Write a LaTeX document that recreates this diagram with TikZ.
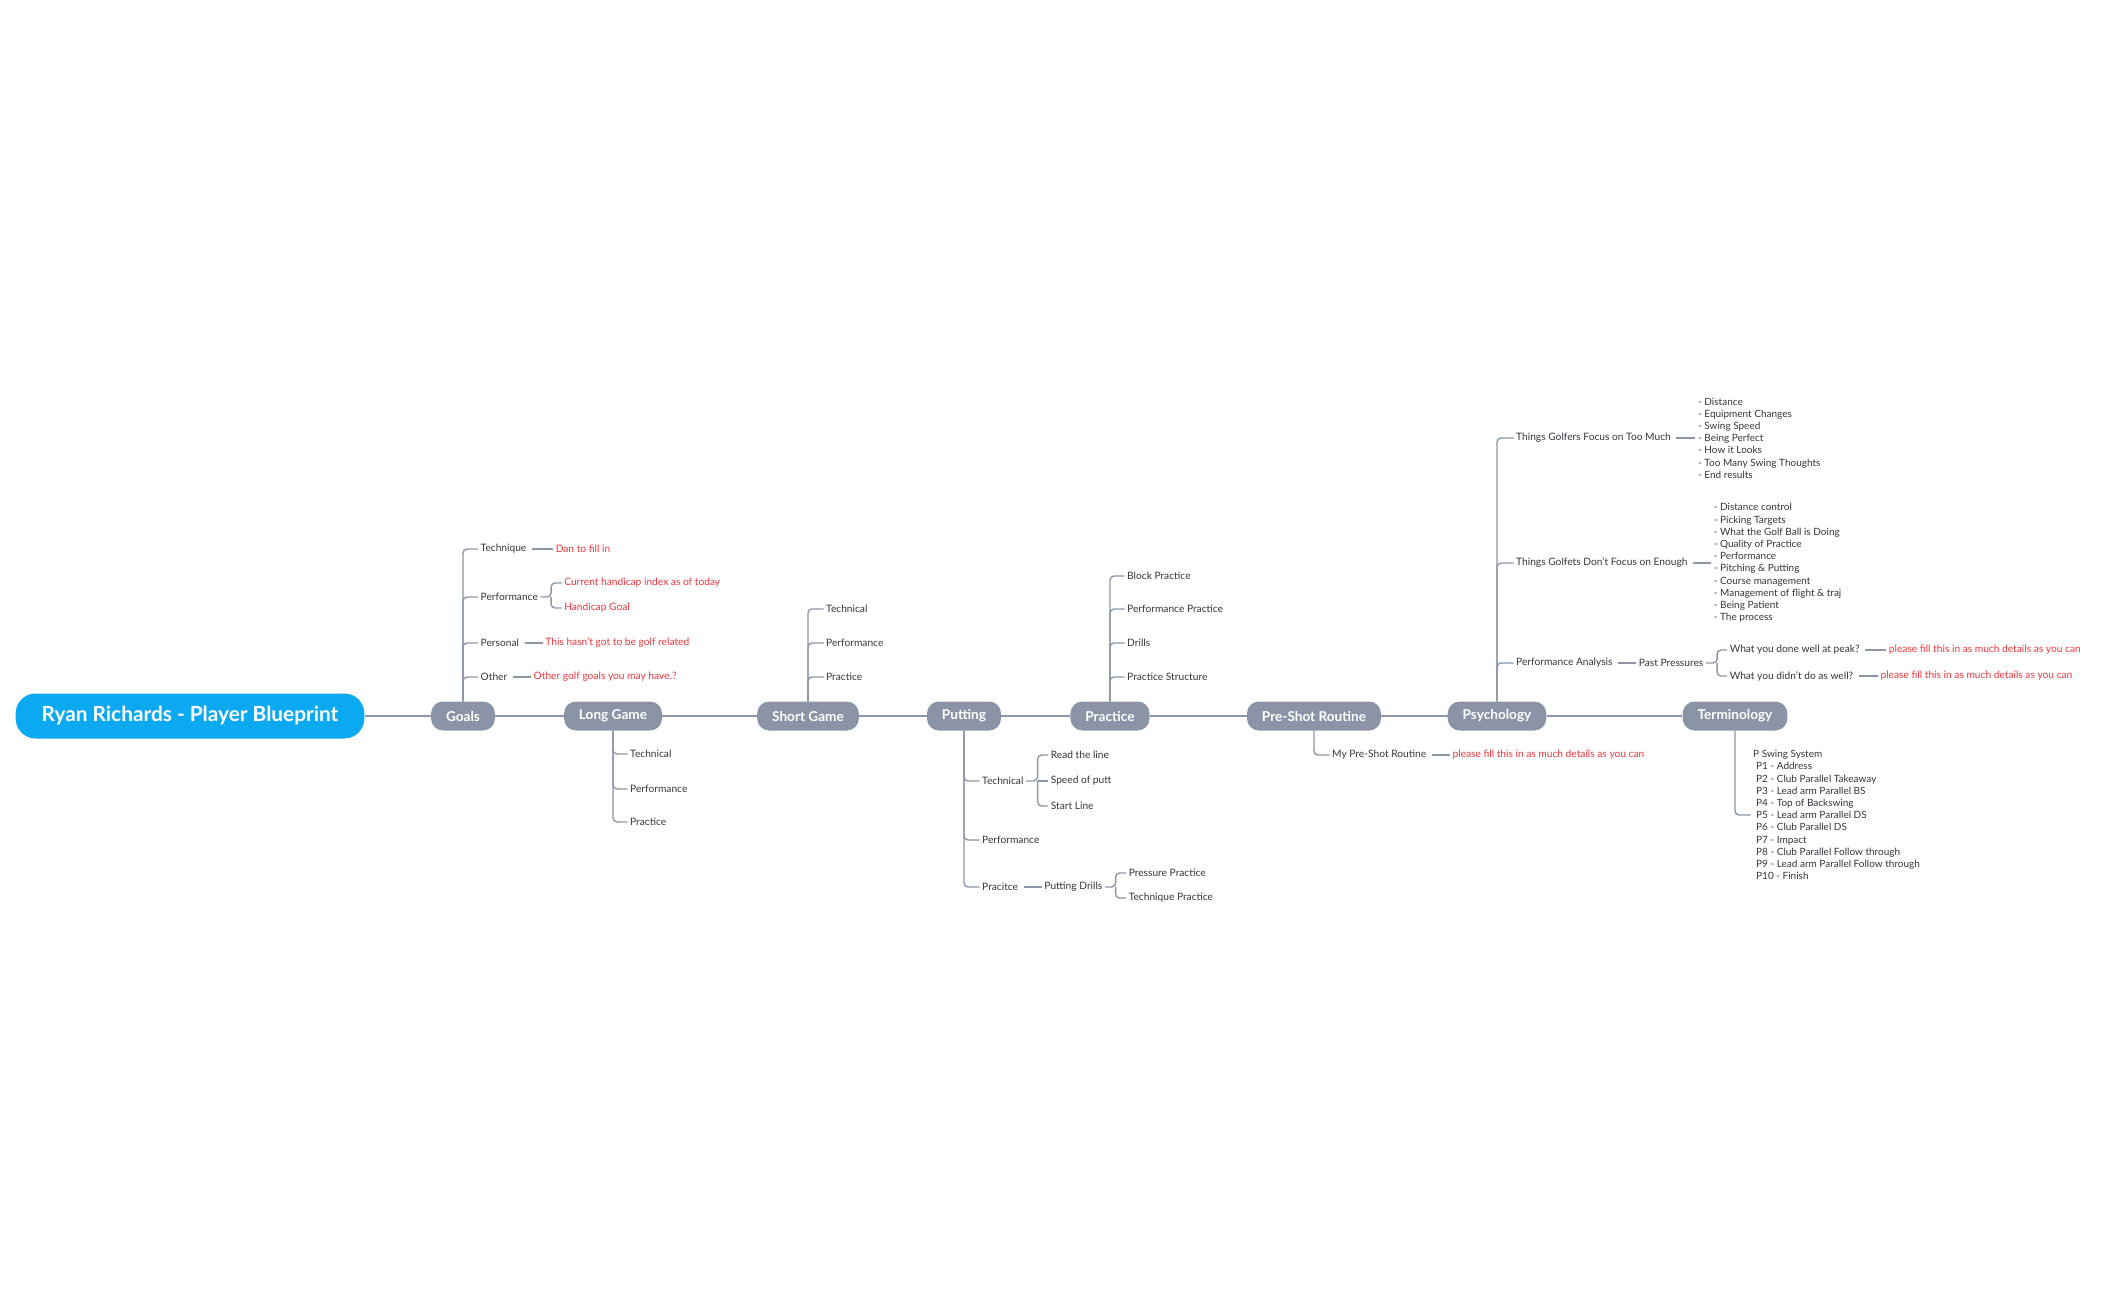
\documentclass[tikz,border=0pt]{standalone}
\usepackage{fontspec}
\setmainfont{Lato}
\usetikzlibrary{positioning,calc}
\definecolor{RootBlue}{RGB}{10,169,242}
\definecolor{TopicGray}{RGB}{138,148,166}
\definecolor{LinkGray}{RGB}{140,150,168}
\definecolor{LabelInk}{RGB}{50,53,60}
\definecolor{NoteRed}{RGB}{240,52,58}
\tikzset{
  rootbox/.style={fill=RootBlue, text=white, rounded corners=20pt,
    font=\fontsize{20.8}{24}\selectfont\bfseries, minimum height=45pt, inner xsep=26pt},
  topicbox/.style={fill=TopicGray, text=white, rounded corners=12pt,
    font=\fontsize{13.6}{16}\selectfont\bfseries, minimum height=29pt, inner xsep=15pt},
  leaf/.style={text=LabelInk, font=\fontsize{10.2}{12}\selectfont,
    inner xsep=2.5pt, inner ysep=2pt, anchor=west},
  note/.style={leaf, text=NoteRed},
  listbox/.style={leaf, align=left, font=\fontsize{10}{12.2}\selectfont},
  trunk/.style={draw=LinkGray, line width=2pt},
  branch/.style={draw=LinkGray, line width=1.4pt, rounded corners=4pt},
  link/.style={branch, shorten <=3pt}
}
\begin{document}
\begin{tikzpicture}[x=1pt, y=-1pt]
  \useasboundingbox (0,0) rectangle (2101,1300);

  % main line
  \node[rootbox] (root) at (190,716) {Ryan Richards - Player Blueprint};
  \node[topicbox] (goals) at (463,716) {Goals};
  \node[topicbox] (longgame) at (613,716) {Long Game};
  \node[topicbox] (shortgame) at (808,716) {Short Game};
  \node[topicbox] (putting) at (964,716) {Putting};
  \node[topicbox] (practice) at (1110,716) {Practice};
  \node[topicbox] (preshot) at (1314,716) {Pre-Shot Routine};
  \node[topicbox] (psych) at (1497,716) {Psychology};
  \node[topicbox] (terms) at (1735,716) {Terminology};
  \foreach \a/\b in {root/goals, goals/longgame, longgame/shortgame, shortgame/putting,
      putting/practice, practice/preshot, preshot/psych, psych/terms}
    \draw[trunk] (\a) -- (\b);

  % goals
  \node[leaf] (gtech) at (478,549) {Technique};
  \node[leaf] (gperf) at (478,597) {Performance};
  \node[leaf] (gpers) at (478,643) {Personal};
  \node[leaf] (gother) at (478,677) {Other};
  \foreach \c in {gtech,gperf,gpers,gother}
    \draw[branch] (goals.north) |- (\c.west);
  \node[note, right=24pt of gtech] (gtechn) {Dan to fill in};
  \node[note, right=21pt of gpers] (gpersn) {This hasn't got to be golf related};
  \node[note, right=21pt of gother] (gothern) {Other golf goals you may have.?};
  \draw[link] (gtech) -- (gtechn);
  \draw[link] (gpers) -- (gpersn);
  \draw[link] (gother) -- (gothern);
  \coordinate[right=10.5pt of gperf] (gperfj);
  \node[note, right=21pt of gperf, yshift=14pt] (gcur) {Current handicap index as of today};
  \node[note, right=21pt of gperf, yshift=-11pt] (ghcg) {Handicap Goal};
  \draw[branch] (gperf.east) -- (gperfj) |- (gcur.west);
  \draw[branch] (gperfj) |- (ghcg.west);

  % long game
  \node[leaf] (lgtech) at (627.5,754) {Technical};
  \node[leaf] (lgperf) at (627.5,789) {Performance};
  \node[leaf] (lgprac) at (627.5,822) {Practice};
  \foreach \c in {lgtech,lgperf,lgprac}
    \draw[branch] (longgame.south) |- (\c.west);

  % short game
  \node[leaf] (sgtech) at (823.5,609) {Technical};
  \node[leaf] (sgperf) at (823.5,643) {Performance};
  \node[leaf] (sgprac) at (823.5,677) {Practice};
  \foreach \c in {sgtech,sgperf,sgprac}
    \draw[branch] (shortgame.north) |- (\c.west);

  % putting
  \node[leaf] (ptech) at (979.5,781) {Technical};
  \node[leaf] (pperf) at (979.5,840) {Performance};
  \node[leaf] (pprac) at (979.5,887) {Pracitce};
  \foreach \c in {ptech,pperf,pprac}
    \draw[branch] (putting.south) |- (\c.west);
  \coordinate[right=11.5pt of ptech] (ptechj);
  \node[leaf, right=22pt of ptech, yshift=26pt] (pread) {Read the line};
  \node[leaf, right=22pt of ptech] (pspeed) {Speed of putt};
  \node[leaf, right=22pt of ptech, yshift=-25pt] (pstart) {Start Line};
  \draw[branch] (ptech.east) -- (ptechj) |- (pread.west);
  \draw[branch] (ptechj) -- (pspeed.west);
  \draw[branch] (ptechj) |- (pstart.west);
  \node[leaf, right=21pt of pprac] (pdrills) {Putting Drills};
  \draw[link] (pprac) -- (pdrills);
  \coordinate[right=10.5pt of pdrills] (pdrillsj);
  \node[leaf, right=21pt of pdrills, yshift=14pt] (ppress) {Pressure Practice};
  \node[leaf, right=21pt of pdrills, yshift=-11pt] (ptechp) {Technique Practice};
  \draw[branch] (pdrills.east) -- (pdrillsj) |- (ppress.west);
  \draw[branch] (pdrillsj) |- (ptechp.west);

  % practice
  \node[leaf] (prblock) at (1124.5,576) {Block Practice};
  \node[leaf] (prperf) at (1124.5,609) {Performance Practice};
  \node[leaf] (prdrill) at (1124.5,643) {Drills};
  \node[leaf] (prstruct) at (1124.5,677) {Practice Structure};
  \foreach \c in {prblock,prperf,prdrill,prstruct}
    \draw[branch] (practice.north) |- (\c.west);

  % pre-shot routine
  \node[leaf] (myroutine) at (1329.5,755) {My Pre-Shot Routine};
  \draw[branch] (preshot.south) |- (myroutine.west);
  \node[note, right=21pt of myroutine] (myroutinen) {please fill this in as much details as you can};
  \draw[link] (myroutine) -- (myroutinen);

  % psychology
  \node[leaf] (toomuch) at (1513.5,438) {Things Golfers Focus on Too Much};
  \node[leaf] (notenough) at (1513.5,563) {Things Golfets Don't Focus on Enough};
  \node[leaf] (perfan) at (1513.5,663) {Performance Analysis};
  \foreach \c in {toomuch,notenough,perfan}
    \draw[branch] (psych.north) |- (\c.west);
  \node[listbox, right=22pt of toomuch] (toomuchl) {- Distance\\- Equipment Changes\\- Swing Speed\\
    - Being Perfect\\- How it Looks\\- Too Many Swing Thoughts\\- End results};
  \node[listbox, right=21pt of notenough] (notenoughl) {- Distance control\\- Picking Targets\\
    - What the Golf Ball is Doing\\- Quality of Practice\\- Performance\\- Pitching \& Putting\\
    - Course management\\- Management of flight \& traj\\- Being Patient\\- The process};
  \draw[link] (toomuch) -- (toomuchl);
  \draw[link] (notenough) -- (notenoughl);
  \node[leaf, right=21pt of perfan] (pastpress) {Past Pressures};
  \draw[link] (perfan) -- (pastpress);
  \coordinate[right=11pt of pastpress] (pastpressj);
  \node[leaf, right=21pt of pastpress, yshift=13pt] (peak) {What you done well at peak?};
  \node[leaf, right=21pt of pastpress, yshift=-13pt] (didnt) {What you didn't do as well?};
  \draw[branch] (pastpress.east) -- (pastpressj) |- (peak.west);
  \draw[branch] (pastpressj) |- (didnt.west);
  \node[note, right=24pt of peak] (peakn) {please fill this in as much details as you can};
  \node[note, right=22pt of didnt] (didntn) {please fill this in as much details as you can};
  \draw[link] (peak) -- (peakn);
  \draw[link] (didnt) -- (didntn);

  % terminology
  \node[listbox] (pswing) at (1750.5,815) {P Swing System\\
    \hspace*{3pt}P1 - Address\\\hspace*{3pt}P2 - Club Parallel Takeaway\\
    \hspace*{3pt}P3 - Lead arm Parallel BS\\\hspace*{3pt}P4 - Top of Backswing\\
    \hspace*{3pt}P5 - Lead arm Parallel DS\\\hspace*{3pt}P6 - Club Parallel DS\\
    \hspace*{3pt}P7 - Impact\\\hspace*{3pt}P8 - Club Parallel Follow through\\
    \hspace*{3pt}P9 - Lead arm Parallel Follow through\\\hspace*{3pt}P10 - Finish};
  \draw[branch] (terms.south) |- (pswing.west);
\end{tikzpicture}
\end{document}
